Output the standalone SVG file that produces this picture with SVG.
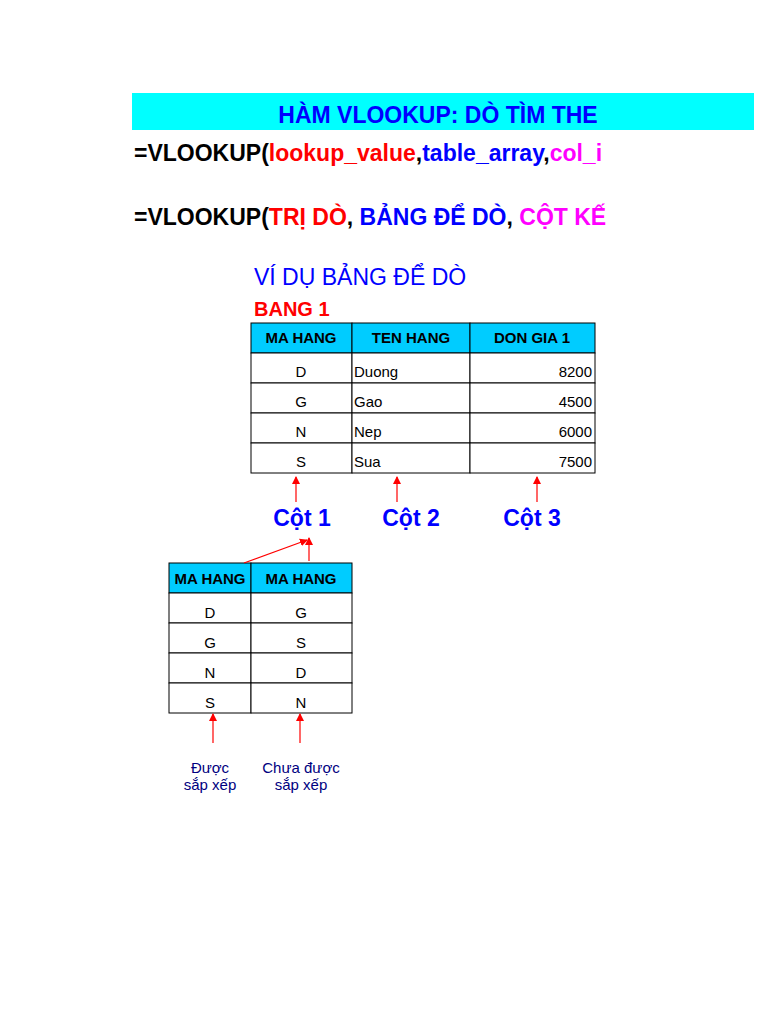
<svg xmlns="http://www.w3.org/2000/svg" width="768" height="1024" viewBox="0 0 768 1024">
<style>
text{font-family:"Liberation Sans",Arial,sans-serif}
.b{font-weight:bold}
.cell{fill:#fff;stroke:#000;stroke-width:1}
.hdr{fill:#00CCFF;stroke:#000;stroke-width:1}
.t{font-size:15px;fill:#000}
.h{font-size:15px;font-weight:bold;fill:#000}
.f{font-size:23px;font-weight:bold}
.arr{stroke:#FF0000;stroke-width:1.2;fill:none;marker-end:url(#ah)}
.col{font-size:23px;font-weight:bold;fill:#0000FF}
.note{font-size:15px;fill:#000080}
</style>
<defs><marker id="ah" markerWidth="8" markerHeight="8" refX="7" refY="4" orient="auto" markerUnits="userSpaceOnUse"><path d="M0,0 L8,4 L0,8 z" fill="#FF0000"/></marker></defs>
<rect x="132" y="93" width="622" height="37" fill="#00FFFF"/>
<text x="438" y="123" text-anchor="middle" class="b" font-size="23" fill="#0000FF">HÀM VLOOKUP: DÒ TÌM THE</text>
<text x="134" y="161" class="f"><tspan fill="#000">=VLOOKUP(</tspan><tspan fill="#FF0000">lookup_value</tspan><tspan fill="#000">,</tspan><tspan fill="#0000FF">table_array</tspan><tspan fill="#000">,</tspan><tspan fill="#FF00FF">col_i</tspan></text>
<text x="134" y="225" class="f"><tspan fill="#000">=VLOOKUP(</tspan><tspan fill="#FF0000">TRỊ DÒ</tspan><tspan fill="#000">, </tspan><tspan fill="#0000FF">BẢNG ĐỂ DÒ</tspan><tspan fill="#000">, </tspan><tspan fill="#FF00FF">CỘT KẾ</tspan></text>
<text x="254" y="285" font-size="23" fill="#0000FF">VÍ DỤ BẢNG ĐỂ DÒ</text>
<text x="254" y="316" font-size="20" class="b" fill="#FF0000">BANG 1</text>
<g id="table1">
<rect class="hdr" x="251" y="323" width="101" height="30"/><rect class="hdr" x="352" y="323" width="118" height="30"/><rect class="hdr" x="470" y="323" width="125" height="30"/>
<text class="h" x="301" y="343" text-anchor="middle">MA HANG</text><text class="h" x="411" y="343" text-anchor="middle">TEN HANG</text><text class="h" x="532" y="343" text-anchor="middle">DON GIA 1</text>
<g>
<rect class="cell" x="251" y="353" width="101" height="30"/><rect class="cell" x="352" y="353" width="118" height="30"/><rect class="cell" x="470" y="353" width="125" height="30"/>
<rect class="cell" x="251" y="383" width="101" height="30"/><rect class="cell" x="352" y="383" width="118" height="30"/><rect class="cell" x="470" y="383" width="125" height="30"/>
<rect class="cell" x="251" y="413" width="101" height="30"/><rect class="cell" x="352" y="413" width="118" height="30"/><rect class="cell" x="470" y="413" width="125" height="30"/>
<rect class="cell" x="251" y="443" width="101" height="30"/><rect class="cell" x="352" y="443" width="118" height="30"/><rect class="cell" x="470" y="443" width="125" height="30"/>
</g>
<text class="t" x="301" y="377" text-anchor="middle">D</text><text class="t" x="354" y="377">Duong</text><text class="t" x="592" y="377" text-anchor="end">8200</text>
<text class="t" x="301" y="407" text-anchor="middle">G</text><text class="t" x="354" y="407">Gao</text><text class="t" x="592" y="407" text-anchor="end">4500</text>
<text class="t" x="301" y="437" text-anchor="middle">N</text><text class="t" x="354" y="437">Nep</text><text class="t" x="592" y="437" text-anchor="end">6000</text>
<text class="t" x="301" y="467" text-anchor="middle">S</text><text class="t" x="354" y="467">Sua</text><text class="t" x="592" y="467" text-anchor="end">7500</text>
</g>
<g id="labels">
<text class="col" x="302" y="526" text-anchor="middle">Cột 1</text>
<text class="col" x="411" y="526" text-anchor="middle">Cột 2</text>
<text class="col" x="532" y="526" text-anchor="middle">Cột 3</text>
</g>
<g id="table2">
<rect class="hdr" x="169" y="563" width="82" height="30"/><rect class="hdr" x="251" y="563" width="101" height="30"/>
<text class="h" x="210" y="584" text-anchor="middle">MA HANG</text><text class="h" x="301" y="584" text-anchor="middle">MA HANG</text>
<rect class="cell" x="169" y="593" width="82" height="30"/><rect class="cell" x="251" y="593" width="101" height="30"/>
<rect class="cell" x="169" y="623" width="82" height="30"/><rect class="cell" x="251" y="623" width="101" height="30"/>
<rect class="cell" x="169" y="653" width="82" height="30"/><rect class="cell" x="251" y="653" width="101" height="30"/>
<rect class="cell" x="169" y="683" width="82" height="30"/><rect class="cell" x="251" y="683" width="101" height="30"/>
<text class="t" x="210" y="618" text-anchor="middle">D</text><text class="t" x="301" y="618" text-anchor="middle">G</text>
<text class="t" x="210" y="648" text-anchor="middle">G</text><text class="t" x="301" y="648" text-anchor="middle">S</text>
<text class="t" x="210" y="678" text-anchor="middle">N</text><text class="t" x="301" y="678" text-anchor="middle">D</text>
<text class="t" x="210" y="708" text-anchor="middle">S</text><text class="t" x="301" y="708" text-anchor="middle">N</text>
</g>
<g id="notes">
<text class="note" x="210" y="773" text-anchor="middle">Được</text><text class="note" x="210" y="790" text-anchor="middle">sắp xếp</text>
<text class="note" x="301" y="773" text-anchor="middle">Chưa được</text><text class="note" x="301" y="790" text-anchor="middle">sắp xếp</text>
</g>
<g id="connectors">
<line class="arr" x1="296" y1="502" x2="296" y2="477"/>
<line class="arr" x1="397" y1="502" x2="397" y2="477"/>
<line class="arr" x1="537" y1="502" x2="537" y2="477"/>
<line class="arr" x1="309" y1="561" x2="309" y2="538"/>
<line class="arr" x1="244" y1="563" x2="307" y2="540"/>
<line class="arr" x1="213" y1="743" x2="213" y2="714"/>
<line class="arr" x1="300" y1="743" x2="300" y2="714"/>
</g>
</svg>
